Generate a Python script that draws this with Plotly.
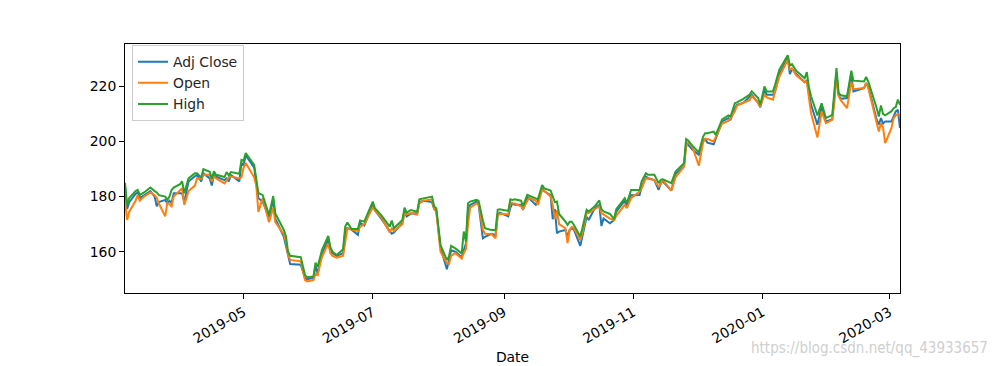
import plotly.graph_objects as go

dates = [
"2019-03-06","2019-03-07","2019-03-08","2019-03-11","2019-03-12","2019-03-13","2019-03-15","2019-03-18",
"2019-03-20","2019-03-21","2019-03-22","2019-03-25","2019-03-26","2019-03-27","2019-03-28","2019-03-29",
"2019-04-01","2019-04-02","2019-04-03","2019-04-05","2019-04-08","2019-04-09","2019-04-11","2019-04-12",
"2019-04-15","2019-04-16","2019-04-17","2019-04-18","2019-04-22","2019-04-23","2019-04-24","2019-04-25",
"2019-04-29","2019-04-30","2019-05-01","2019-05-02","2019-05-06","2019-05-07","2019-05-08","2019-05-10",
"2019-05-13","2019-05-15","2019-05-16","2019-05-20","2019-05-21","2019-05-22","2019-05-23","2019-05-28",
"2019-05-30","2019-05-31","2019-06-03","2019-06-04","2019-06-05","2019-06-06","2019-06-07","2019-06-10",
"2019-06-11","2019-06-12","2019-06-14","2019-06-17","2019-06-18","2019-06-19","2019-06-21","2019-06-24",
"2019-06-25","2019-06-27","2019-07-01","2019-07-02","2019-07-05","2019-07-09","2019-07-10","2019-07-11",
"2019-07-15","2019-07-16","2019-07-17","2019-07-19","2019-07-22","2019-07-23","2019-07-25","2019-07-29",
"2019-07-30","2019-07-31","2019-08-02","2019-08-05","2019-08-06","2019-08-07","2019-08-09","2019-08-12",
"2019-08-13","2019-08-14","2019-08-15","2019-08-16","2019-08-19","2019-08-20","2019-08-22","2019-08-23",
"2019-08-26","2019-08-28","2019-08-29","2019-08-30","2019-09-03","2019-09-04","2019-09-05","2019-09-06",
"2019-09-09","2019-09-10","2019-09-12","2019-09-13","2019-09-16","2019-09-17","2019-09-19","2019-09-20",
"2019-09-23","2019-09-24","2019-09-25","2019-09-26","2019-09-27","2019-09-30","2019-10-01","2019-10-02",
"2019-10-03","2019-10-04","2019-10-07","2019-10-08","2019-10-10","2019-10-11","2019-10-14","2019-10-16",
"2019-10-17","2019-10-18","2019-10-21","2019-10-23","2019-10-24","2019-10-28","2019-10-29","2019-10-31",
"2019-11-04","2019-11-05","2019-11-07","2019-11-08","2019-11-11","2019-11-13","2019-11-14","2019-11-15",
"2019-11-19","2019-11-20","2019-11-21","2019-11-25","2019-11-26","2019-11-27","2019-11-29","2019-12-02",
"2019-12-04","2019-12-05","2019-12-06","2019-12-09","2019-12-10","2019-12-12","2019-12-13","2019-12-16",
"2019-12-17","2019-12-19","2019-12-20","2019-12-23","2019-12-26","2019-12-27","2019-12-30","2019-12-31",
"2020-01-02","2020-01-03","2020-01-06","2020-01-07","2020-01-09","2020-01-13","2020-01-14","2020-01-15",
"2020-01-16","2020-01-17","2020-01-21","2020-01-22","2020-01-23","2020-01-24","2020-01-27","2020-01-29",
"2020-01-31","2020-02-03","2020-02-04","2020-02-05","2020-02-06","2020-02-07","2020-02-10","2020-02-12",
"2020-02-13","2020-02-18","2020-02-19","2020-02-20","2020-02-24","2020-02-25","2020-02-26","2020-02-27",
"2020-02-28","2020-03-02","2020-03-03","2020-03-04","2020-03-05","2020-03-06",
]

high = [
185.0,177.0,179.5,182.0,182.4,180.6,181.5,183.3,
182.0,181.5,180.5,180.0,178.8,180.0,182.4,183.3,
184.5,185.5,181.2,186.6,188.5,188.5,186.9,190.0,
189.0,186.5,189.2,187.9,187.1,188.9,187.7,188.9,
188.3,193.3,193.0,195.8,191.5,186.6,181.2,180.6,
173.3,180.2,173.9,167.9,165.6,160.0,158.5,158.0,
151.5,150.7,151.0,156.0,154.5,157.5,160.6,165.7,
161.6,160.0,158.8,160.9,169.1,170.6,168.2,168.2,
171.3,170.9,178.2,175.8,173.3,169.1,171.3,168.5,
171.5,176.0,174.2,175.1,174.5,179.0,179.4,180.0,
176.4,175.8,162.4,157.0,158.2,162.1,161.2,159.4,
167.3,163.7,177.6,178.2,178.8,178.4,171.3,168.5,
167.9,167.9,175.2,175.4,174.8,179.0,178.8,179.0,
178.5,176.6,180.6,180.3,179.4,179.0,184.2,183.0,
182.2,180.3,178.0,178.2,173.7,170.9,169.7,170.9,
170.9,169.7,165.5,168.5,175.2,174.6,176.6,178.6,
175.4,174.6,173.7,171.8,175.4,179.4,177.6,182.4,
182.4,185.5,188.5,187.9,187.9,184.9,186.1,186.3,
184.9,187.0,189.1,192.1,200.9,200.4,198.4,196.0,
201.8,203.0,203.0,203.6,202.4,206.1,208.0,209.5,
209.1,213.9,214.2,215.5,217.0,218.2,215.8,213.3,
220.0,218.2,218.2,220.6,226.1,231.3,227.6,228.1,
226.9,225.7,223.0,225.2,219.6,216.4,209.5,213.9,
208.5,209.7,218.0,226.7,217.6,216.8,216.4,225.7,
222.1,221.8,223.4,221.8,212.1,209.1,213.1,210.0,
209.5,211.0,212.1,212.5,215.2,213.3,
]

adj_close = [
184.0,175.5,178.0,181.0,181.5,179.5,180.5,182.0,
180.0,176.5,178.0,178.8,177.5,178.5,177.6,181.2,
181.2,181.2,178.0,185.5,187.4,187.9,185.5,188.5,
186.6,184.0,187.9,187.2,186.0,186.6,185.5,187.9,
185.5,192.2,191.5,195.0,190.5,185.0,179.4,178.2,
172.5,178.8,172.0,165.4,161.8,158.0,155.5,155.3,
150.5,150.0,150.5,155.0,152.0,156.0,159.0,164.5,
160.0,159.5,158.5,159.5,167.5,168.6,168.0,166.1,
170.5,169.5,177.0,175.0,172.0,167.5,166.5,167.0,
170.5,175.0,172.8,173.8,174.0,178.0,178.5,178.0,
175.5,175.0,161.5,153.6,157.5,160.5,160.0,158.0,
160.5,163.0,175.0,177.0,178.2,177.0,164.9,165.4,
166.5,166.0,173.5,174.2,172.8,176.0,177.5,177.0,
177.0,175.2,180.0,179.2,177.0,178.5,183.0,182.0,
180.5,171.8,175.5,166.7,167.3,167.9,165.5,167.9,
168.5,168.0,162.1,165.5,172.7,171.5,176.0,177.0,
169.3,172.1,170.3,171.5,174.5,178.5,176.6,180.5,
180.6,183.5,187.3,186.7,186.0,182.4,184.9,185.5,
182.2,185.0,188.2,191.0,199.6,198.8,197.0,195.2,
200.6,200.9,199.6,199.0,201.0,205.0,207.3,208.5,
208.0,212.0,213.3,214.0,216.0,217.0,214.0,212.4,
218.8,217.0,217.0,218.0,224.5,230.3,224.5,226.4,
225.5,224.5,221.5,222.1,217.5,213.3,206.1,212.7,
207.3,208.0,216.5,225.0,216.8,215.5,215.8,224.2,
218.2,219.4,221.2,220.0,207.9,206.1,208.5,206.5,
207.3,207.3,209.1,210.9,211.5,204.9,
]

open_ = [
178.5,171.5,174.5,178.5,180.5,178.5,180.0,181.5,
180.5,179.5,177.5,172.8,177.9,177.0,176.5,180.0,
182.0,183.0,177.0,182.0,184.0,186.6,186.5,187.9,
187.9,185.5,187.4,186.6,184.8,186.0,186.9,187.3,
186.6,187.0,190.5,192.2,187.0,184.0,174.4,179.5,
170.7,176.0,170.7,166.4,163.5,159.0,157.0,156.5,
149.7,149.2,149.7,152.0,151.5,155.0,158.0,163.0,
159.5,158.5,157.8,158.5,163.0,168.5,168.0,167.5,
169.0,170.0,176.0,175.0,172.5,167.0,168.5,167.5,
170.0,174.0,173.5,174.0,173.5,177.5,178.5,179.0,
175.5,174.5,160.0,155.8,155.5,158.5,159.5,157.5,
159.5,161.0,170.0,176.0,177.5,177.5,168.0,166.5,
166.4,164.9,173.0,173.8,173.5,178.0,177.5,177.5,
176.5,175.5,178.5,179.5,178.5,177.0,182.5,182.0,
180.0,177.0,172.0,175.0,170.0,168.5,163.1,167.9,
169.0,168.5,164.2,166.7,174.0,174.0,175.5,176.5,
174.0,173.5,172.0,171.5,173.0,177.0,175.8,179.4,
181.8,183.0,186.7,186.5,186.0,183.6,184.5,186.0,
182.2,184.5,187.0,190.9,198.0,200.0,197.9,191.2,
199.6,201.0,200.9,200.0,201.5,204.9,206.5,207.5,
208.5,211.0,213.0,214.0,215.0,216.5,214.0,212.7,
217.0,216.0,215.2,218.2,223.5,229.7,226.1,226.5,
225.0,224.0,221.5,221.8,215.8,210.3,201.5,210.9,
206.7,207.9,214.0,224.0,216.5,215.0,212.1,221.6,
219.0,219.4,221.2,219.5,206.7,203.6,206.7,205.0,
199.4,204.9,208.5,209.5,210.0,209.5,
]

tick_vals = ["2019-05-01", "2019-07-01", "2019-09-01", "2019-11-01", "2020-01-01", "2020-03-01"]
tick_text = ["2019-05", "2019-07", "2019-09", "2019-11", "2020-01", "2020-03"]
y_ticks = [160, 180, 200, 220]

series = [("Adj Close", adj_close, "#1f77b4"), ("Open", open_, "#ff7f0e"), ("High", high, "#2ca02c")]

fig = go.Figure()
for name, vals, color in series:
    fig.add_trace(go.Scatter(x=dates, y=vals, mode="lines", name=name,
                             line=dict(color=color, width=2)))

font_family = "DejaVu Sans"
fig.update_layout(
    width=1000, height=366,
    margin=dict(l=125, r=100, t=44, b=73),
    paper_bgcolor="white", plot_bgcolor="white",
    font=dict(family=font_family, size=13.9, color="#262626"),
    showlegend=True,
    legend=dict(x=0.009, y=0.995, xanchor="left", yanchor="top",
                bgcolor="rgba(255,255,255,0.8)", bordercolor="#cccccc", borderwidth=1,
                font=dict(family=font_family, size=13.9, color="#262626"),
                tracegroupgap=0, itemwidth=30),
    xaxis=dict(type="date", range=["2019-03-06", "2020-03-06"], automargin=False,
               tickvals=tick_vals, ticktext=tick_text, tickangle=-30,
               ticks="outside", ticklen=5, tickwidth=1, tickcolor="black",
               showline=True, linecolor="black", linewidth=1, mirror=True,
               showgrid=False, zeroline=False,
               tickfont=dict(family=font_family, size=13.9, color="black"),
               title=dict(text="Date", font=dict(family=font_family, size=13.9, color="black"),
                          standoff=6)),
    yaxis=dict(range=[145.0, 235.4], tickvals=y_ticks, automargin=False,
               ticks="outside", ticklen=5, tickwidth=1, tickcolor="black",
               showline=True, linecolor="black", linewidth=1, mirror=True,
               showgrid=False, zeroline=False,
               tickfont=dict(family=font_family, size=13.9, color="black")),
)

fig.add_annotation(text="https://blog.csdn.net/qq_43933657", xref="paper", yref="paper",
                   x=1.116, y=-0.221, xanchor="right", yanchor="middle", showarrow=False,
                   font=dict(family="Liberation Sans Narrow, DejaVu Sans Condensed, sans-serif",
                             size=15, color="#cfcfcf"))

fig.write_html("out.html")
